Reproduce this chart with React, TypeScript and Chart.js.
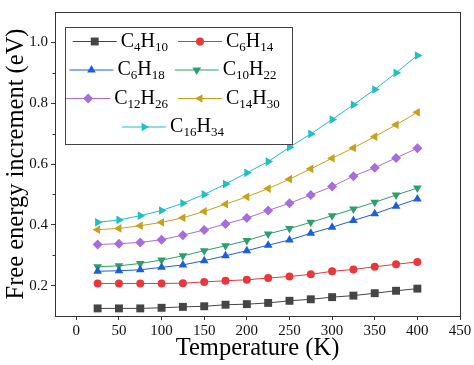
import React, { useEffect, useRef } from "react";
import { Chart, registerables } from "chart.js";
import { drawPoint } from "chart.js/helpers";

Chart.register(...registerables);

const temps = [25, 50, 75, 100, 125, 150, 175, 200, 225, 250, 275, 300, 325, 350, 375, 400];
const c4h10 = [0.125, 0.125, 0.125, 0.127, 0.13, 0.132, 0.137, 0.139, 0.143, 0.15, 0.155, 0.162, 0.167, 0.175, 0.183, 0.19];
const c6h14 = [0.207, 0.207, 0.207, 0.207, 0.208, 0.212, 0.216, 0.219, 0.225, 0.23, 0.237, 0.247, 0.253, 0.262, 0.27, 0.278];
const c6h18 = [0.247, 0.249, 0.252, 0.26, 0.268, 0.282, 0.298, 0.315, 0.333, 0.35, 0.372, 0.392, 0.414, 0.436, 0.461, 0.485];
const c10h22 = [0.262, 0.265, 0.273, 0.284, 0.298, 0.315, 0.331, 0.348, 0.37, 0.388, 0.408, 0.43, 0.452, 0.474, 0.498, 0.521];
const c12h26 = [0.335, 0.338, 0.342, 0.351, 0.366, 0.383, 0.403, 0.422, 0.447, 0.471, 0.498, 0.526, 0.56, 0.588, 0.62, 0.652];
const c14h30 = [0.384, 0.388, 0.397, 0.408, 0.423, 0.444, 0.468, 0.492, 0.519, 0.55, 0.584, 0.619, 0.653, 0.69, 0.729, 0.77];
const c16h34 = [0.408, 0.416, 0.43, 0.447, 0.471, 0.5, 0.534, 0.571, 0.608, 0.655, 0.699, 0.746, 0.795, 0.845, 0.9, 0.957];

const seriesNames = ["C4H10", "C6H14", "C6H18", "C10H22", "C12H26", "C14H30", "C16H34"];
const seriesValues = [c4h10, c6h14, c6h18, c10h22, c12h26, c14h30, c16h34];
const seriesColors = ["#454545", "#e8383d", "#1c5fd8", "#2e9e6a", "#a86ddc", "#c9a01a", "#1fbfc2"];
const seriesStyles = ["rect", "circle", "triangle", "triangle", "rectRot", "triangle", "triangle"];
const seriesRotations = [0, 0, 0, 180, 0, -90, 90];
const seriesRadii = [5.6, 4, 5, 5, 5, 5, 5];

const xTicks = [0, 50, 100, 150, 200, 250, 300, 350, 400, 450];
const yTicks = [0.2, 0.4, 0.6, 0.8, 1.0];
const yMinorTicks = [0.3, 0.5, 0.7, 0.9];

const FONT = "'Liberation Serif', 'Times New Roman', serif";

const framePlugin = {
  id: "frame",
  afterDraw(chart: any) {
    const { ctx, chartArea } = chart;
    const { left, right, top, bottom } = chartArea;
    ctx.save();
    ctx.strokeStyle = "#333";
    ctx.lineWidth = 1;
    ctx.strokeRect(Math.round(left) + 0.5, Math.round(top) + 0.5, Math.round(right - left), Math.round(bottom - top));
    const ys = chart.scales.y;
    ctx.beginPath();
    yMinorTicks.forEach((v) => {
      const py = Math.round(ys.getPixelForValue(v)) + 0.5;
      ctx.moveTo(left, py);
      ctx.lineTo(left - 2.5, py);
    });
    ctx.stroke();
    ctx.restore();
  },
};

function drawFormula(ctx: any, name: string, x: number, y: number, measureOnly: boolean) {
  let cx = x;
  const parts = name.match(/[A-Za-z]+|\d+/g) || [];
  parts.forEach((p) => {
    const isSub = /\d/.test(p);
    ctx.font = isSub ? `13px ${FONT}` : `20px ${FONT}`;
    const w = ctx.measureText(p).width;
    if (!measureOnly) {
      ctx.fillText(p, cx, isSub ? y + 6 : y);
    }
    cx += w;
  });
  return cx - x;
}

const legendPlugin = {
  id: "customLegend",
  afterDatasetsDraw(chart: any) {
    const { ctx } = chart;
    const boxL = 65, boxT = 27, boxR = 292, boxB = 144;
    ctx.save();
    ctx.fillStyle = "#fff";
    ctx.fillRect(boxL, boxT, boxR - boxL, boxB - boxT);
    ctx.strokeStyle = "#444";
    ctx.lineWidth = 1;
    ctx.strokeRect(boxL + 0.5, boxT + 0.5, boxR - boxL, boxB - boxT);
    const rows = [[0, 1], [2, 3], [4, 5], [6]];
    const rowY = [41.5, 70, 98.5, 127];
    const lineLen = 44;
    const gapText = 4;
    const gapItem = 10;
    const centerX = 173;
    ctx.textBaseline = "middle";
    rows.forEach((row, ri) => {
      const widths = row.map((i) => lineLen + gapText + drawFormula(ctx, seriesNames[i], 0, 0, true));
      const total = widths.reduce((a, b) => a + b, 0) + gapItem * (row.length - 1);
      let x = centerX - total / 2;
      const y = rowY[ri];
      row.forEach((i, k) => {
        ctx.strokeStyle = seriesColors[i];
        ctx.lineWidth = 1;
        ctx.beginPath();
        ctx.moveTo(x, y);
        ctx.lineTo(x + lineLen, y);
        ctx.stroke();
        ctx.fillStyle = seriesColors[i];
        drawPoint(ctx, { pointStyle: seriesStyles[i], radius: seriesRadii[i], rotation: seriesRotations[i], borderWidth: 0 } as any, x + lineLen / 2, y);
        ctx.fillStyle = "#000";
        drawFormula(ctx, seriesNames[i], x + lineLen + gapText, y, false);
        x += widths[k] + gapItem;
      });
    });
    ctx.restore();
  },
};

export default function App() {
  const ref = useRef<HTMLCanvasElement | null>(null);
  useEffect(() => {
    if (!ref.current) return;
    const datasets = seriesNames.map((name, i) => ({
      label: name,
      data: temps.map((t, j) => ({ x: t, y: seriesValues[i][j] })),
      borderColor: seriesColors[i],
      backgroundColor: seriesColors[i],
      borderWidth: 1,
      pointStyle: seriesStyles[i],
      pointRotation: seriesRotations[i],
      pointRadius: seriesRadii[i],
      pointBorderWidth: 0,
      showLine: true,
      tension: 0,
    }));
    const chart = new Chart(ref.current, {
      type: "scatter",
      data: { datasets },
      options: {
        animation: false,
        responsive: false,
        maintainAspectRatio: false,
        layout: { padding: { top: 12, right: 14, left: 0, bottom: 0 } },
        plugins: { legend: { display: false }, tooltip: { enabled: false } },
        scales: {
          x: {
            type: "linear",
            min: -25,
            max: 450,
            afterBuildTicks: (s: any) => {
              s.ticks = xTicks.map((v) => ({ value: v }));
            },
            afterFit: (s: any) => {
              s.height = 49;
            },
            grid: { drawOnChartArea: false, drawTicks: true, tickLength: 4, color: "#333" },
            border: { color: "#333", width: 1 },
            ticks: { font: { family: FONT, size: 15 }, color: "#111", padding: 2, maxRotation: 0, autoSkip: false },
            title: { display: true, text: "Temperature (K)", font: { family: FONT, size: 24.5 }, color: "#000", padding: { top: 0, bottom: 2 } },
          },
          y: {
            type: "linear",
            min: 0.1,
            max: 1.1,
            afterBuildTicks: (s: any) => {
              s.ticks = yTicks.map((v) => ({ value: v }));
            },
            afterFit: (s: any) => {
              s.width = 55;
            },
            grid: { drawOnChartArea: false, drawTicks: true, tickLength: 4, color: "#333" },
            border: { color: "#333", width: 1 },
            ticks: { font: { family: FONT, size: 15 }, color: "#111", padding: 3, callback: (v: any) => Number(v).toFixed(1) },
            title: { display: true, text: "Free energy increment (eV)", font: { family: FONT, size: 24.5 }, color: "#000", padding: { top: 2, bottom: 0 } },
          },
        },
      },
      plugins: [framePlugin, legendPlugin],
    } as any);
    return () => chart.destroy();
  }, []);
  return (
    <div style={{ position: "fixed", left: 0, top: 0, width: 474, height: 365, background: "#fff" }}>
      <canvas ref={ref} width={474} height={365} style={{ display: "block" }} />
    </div>
  );
}
